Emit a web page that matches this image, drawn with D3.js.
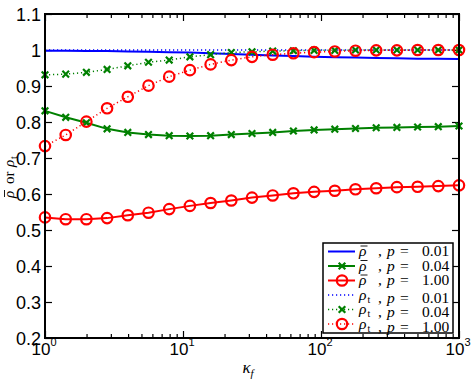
<!DOCTYPE html>
<html><head><meta charset="utf-8">
<script src="https://cdn.jsdelivr.net/npm/d3@7"></script>
<style>
body{margin:0;background:#fff;}
svg{display:block;}
</style></head>
<body><svg id="chart" width="474" height="380"></svg>
<script>
// ---- data ----
const kappa = [1, 1.413, 1.995, 2.818, 3.981, 5.623, 7.943, 11.22, 15.85, 22.39, 31.62, 44.67, 63.10, 89.13, 125.9, 177.8, 251.2, 354.8, 501.2, 707.9, 1000];
const rhoBar_p001 = [0.998, 0.998, 0.997, 0.997, 0.996, 0.995, 0.994, 0.993, 0.991, 0.989, 0.987, 0.985, 0.983, 0.981, 0.980, 0.979, 0.978, 0.977, 0.976, 0.976, 0.975];
const rhoBar_p004 = [0.831, 0.813, 0.798, 0.781, 0.771, 0.765, 0.762, 0.761, 0.762, 0.765, 0.768, 0.771, 0.775, 0.778, 0.780, 0.782, 0.784, 0.785, 0.786, 0.787, 0.789];
const rhoBar_p100 = [0.535, 0.530, 0.530, 0.533, 0.541, 0.548, 0.558, 0.567, 0.575, 0.582, 0.590, 0.596, 0.602, 0.606, 0.609, 0.613, 0.616, 0.619, 0.620, 0.622, 0.624];
const rhoT_p001 = [1.000, 1.000, 1.000, 1.000, 1.000, 1.000, 1.000, 1.000, 1.000, 1.000, 1.000, 1.000, 1.000, 1.000, 1.000, 1.000, 1.000, 1.000, 1.000, 1.000, 1.000];
const rhoT_p004 = [0.931, 0.933, 0.938, 0.946, 0.956, 0.966, 0.972, 0.981, 0.987, 0.993, 0.995, 0.997, 0.998, 0.999, 0.999, 1.000, 1.000, 1.000, 1.000, 1.000, 1.000];
const rhoT_p100 = [0.733, 0.764, 0.801, 0.838, 0.870, 0.901, 0.926, 0.944, 0.960, 0.972, 0.981, 0.987, 0.991, 0.994, 0.996, 0.998, 0.999, 0.999, 1.000, 1.000, 1.000];
const yTicks = [0.2, 0.3, 0.4, 0.5, 0.6, 0.7, 0.8, 0.9, 1.0, 1.1];
const yTickLabels = ["0.2", "0.3", "0.4", "0.5", "0.6", "0.7", "0.8", "0.9", "1", "1.1"];
const xTicks = [1, 10, 100, 1000];
const xTickExponents = ["0", "1", "2", "3"];
const pLabels = ["0.01", "0.04", "1.00"];

const series = [
  {vals: rhoBar_p001, color: "#0000ff", dash: null, marker: null, sym: "bar", p: pLabels[0]},
  {vals: rhoBar_p004, color: "#008000", dash: null, marker: "x", sym: "bar", p: pLabels[1]},
  {vals: rhoBar_p100, color: "#ff0000", dash: null, marker: "o", sym: "bar", p: pLabels[2]},
  {vals: rhoT_p001, color: "#0000ff", dash: "1.2,2.8", marker: null, sym: "t", p: pLabels[0]},
  {vals: rhoT_p004, color: "#008000", dash: "1.2,2.8", marker: "x", sym: "t", p: pLabels[1]},
  {vals: rhoT_p100, color: "#ff0000", dash: "1.2,2.8", marker: "o", sym: "t", p: pLabels[2]},
];

const L = 45, R = 459, T = 14, B = 338;
const SANS = "Liberation Sans, Arial, sans-serif";
const SERIF = "Liberation Serif, DejaVu Serif, serif";
const svg = d3.select("#chart");
const x = d3.scaleLog().domain([1, 1000]).range([L, R]);
const y = d3.scaleLinear().domain([0.2, 1.1]).range([B, T]);

// minor x ticks
const minor = [];
for (let d = 1; d < 1000; d *= 10) for (let m = 2; m <= 9; m++) minor.push(d * m);

const axG = svg.append("g");
function addAxis(axis, tx, ty, vals, size) {
  axG.append("g").attr("transform", `translate(${tx},${ty})`)
    .call(axis.tickValues(vals).tickSize(-size).tickFormat(""))
    .call(g => g.select(".domain").remove());
}
addAxis(d3.axisBottom(x), 0, B, minor, 4);
addAxis(d3.axisBottom(x), 0, B, xTicks, 7);
addAxis(d3.axisTop(x), 0, T, minor, 4);
addAxis(d3.axisTop(x), 0, T, xTicks, 7);
addAxis(d3.axisLeft(y), L, 0, yTicks, 7);
addAxis(d3.axisRight(y), R, 0, yTicks, 7);
axG.selectAll(".tick line").attr("stroke", "#000").attr("stroke-width", 1.2);

// y tick labels
svg.append("g").selectAll("text").data(yTicks).join("text")
  .attr("x", L - 4).attr("y", d => y(d) + 6.5)
  .attr("text-anchor", "end")
  .attr("font-family", SANS).attr("font-size", 18)
  .text((d, i) => yTickLabels[i]);

// x tick labels with superscripts
const xl = svg.append("g").selectAll("text").data(xTicks).join("text")
  .attr("x", d => x(d) - 1).attr("y", B + 17)
  .attr("text-anchor", "middle")
  .attr("font-family", SANS).attr("font-size", 17);
xl.append("tspan").text("10");
xl.append("tspan").attr("dy", -9).attr("font-size", 11).text((d, i) => xTickExponents[i]);

// x axis label
svg.append("text").attr("x", 248).attr("y", 373).attr("text-anchor", "middle")
  .attr("font-family", SERIF).attr("font-size", 17)
  .call(t => {
    t.append("tspan").attr("font-style", "italic").text("κ");
    t.append("tspan").attr("font-style", "italic").attr("font-size", 11).attr("dy", 4).text("f");
  });

// y axis label (rotated)
const yl = svg.append("g").attr("transform", "translate(14,173) rotate(-90)");
yl.append("text").attr("font-family", SERIF).attr("font-size", 15)
  .call(t => {
    t.append("tspan").attr("x", -25).attr("font-style", "italic").text("ρ");
    t.append("tspan").attr("x", -11).text("or");
    t.append("tspan").attr("x", 6).attr("font-style", "italic").text("ρ");
    t.append("tspan").attr("x", 14).attr("dy", 3).attr("font-size", 10).text("t");
  });
yl.append("line").attr("x1", -24).attr("x2", -17).attr("y1", -9.5).attr("y2", -9.5)
  .attr("stroke", "#000").attr("stroke-width", 0.9);

// lines
const line = d3.line().x((d, i) => x(kappa[i])).y(d => y(d));
const plot = svg.append("g");
series.forEach(s => {
  plot.append("path").datum(s.vals).attr("d", line)
    .attr("fill", "none").attr("stroke", s.color)
    .attr("stroke-width", s.dash ? 1.5 : 2)
    .attr("stroke-dasharray", s.dash);
});

function drawMarker(g, type, cx, cy, color) {
  if (type === "o") {
    g.append("circle").attr("cx", cx).attr("cy", cy).attr("r", 5.2)
      .attr("fill", "none").attr("stroke", color).attr("stroke-width", 2.2);
  } else if (type === "x") {
    const s = 3.3;
    g.append("path").attr("d", `M${cx - s},${cy - s}L${cx + s},${cy + s}M${cx - s},${cy + s}L${cx + s},${cy - s}`)
      .attr("stroke", color).attr("stroke-width", 2.2).attr("fill", "none");
  }
}
series.forEach(s => {
  if (!s.marker) return;
  s.vals.forEach((v, i) => drawMarker(plot, s.marker, x(kappa[i]), y(v), s.color));
});

// frame
svg.append("rect").attr("x", L).attr("y", T).attr("width", R - L).attr("height", B - T)
  .attr("fill", "none").attr("stroke", "#000").attr("stroke-width", 2);

// legend
const lg = svg.append("g");
const lx = 323, ly = 243, lw = 130, lh = 90;
lg.append("rect").attr("x", lx).attr("y", ly).attr("width", lw).attr("height", lh)
  .attr("fill", "#fff").attr("stroke", "#000").attr("stroke-width", 1.5);
series.forEach((s, i) => {
  const yy = ly + 8.5 + i * 14.5;
  lg.append("line").attr("x1", lx + 5).attr("x2", lx + 32).attr("y1", yy).attr("y2", yy)
    .attr("stroke", s.color).attr("stroke-width", s.dash ? 1.5 : 2).attr("stroke-dasharray", s.dash);
  if (s.marker) drawMarker(lg, s.marker, lx + 19, yy, s.color);
  const base = yy + 4.5;
  const t = lg.append("text").attr("y", base)
    .attr("font-family", SERIF).attr("font-size", 15.5);
  t.append("tspan").attr("x", 359).attr("font-style", "italic").text("ρ");
  if (s.sym === "bar") {
    lg.append("line").attr("x1", 360.5).attr("x2", 367.5).attr("y1", base - 10).attr("y2", base - 10)
      .attr("stroke", "#000").attr("stroke-width", 0.9);
  } else {
    t.append("tspan").attr("x", 367.5).attr("dy", 3).attr("font-size", 10).text("t");
    t.append("tspan").attr("dy", -3).text("");
  }
  t.append("tspan").attr("x", 378).text(",");
  t.append("tspan").attr("x", 387).attr("font-style", "italic").text("p");
  t.append("tspan").attr("x", 400).text("=");
  t.append("tspan").attr("x", 422).text(s.p);
});
</script>
</body></html>
